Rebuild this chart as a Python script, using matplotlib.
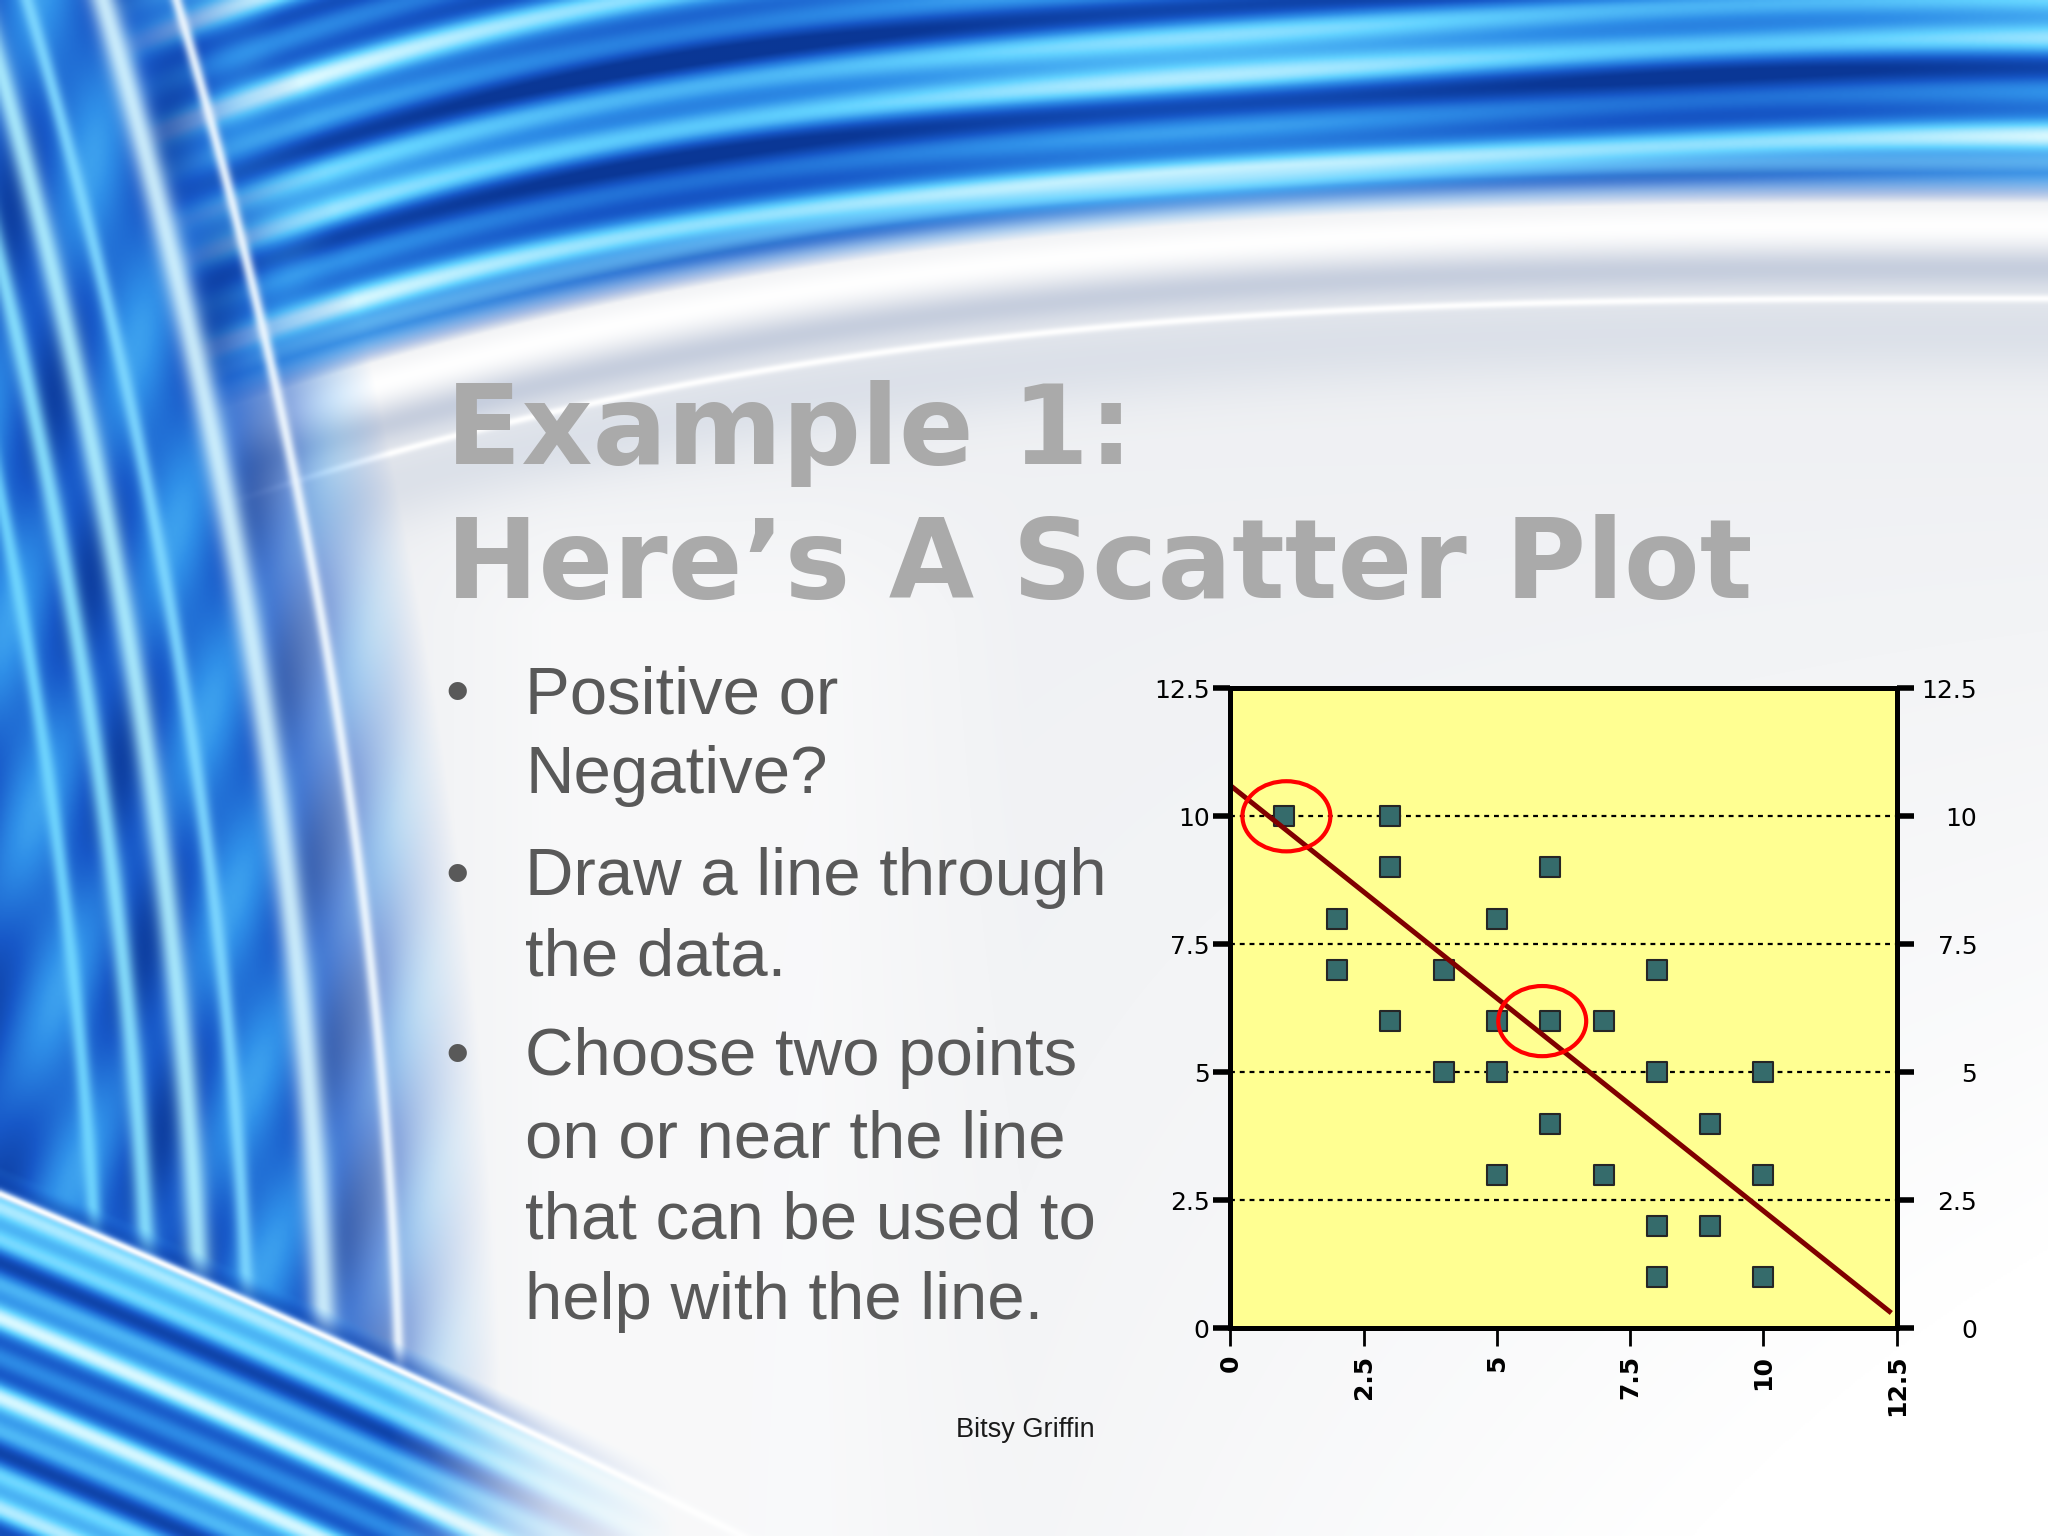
import numpy as np
import matplotlib
matplotlib.use("Agg")
import matplotlib.pyplot as plt
from matplotlib.colors import LinearSegmentedColormap
from matplotlib.patches import Ellipse

# %% Data
point_x = [1, 3, 3, 6, 2, 5, 2, 4, 8, 3, 5, 6, 7, 4, 5, 8, 10, 6, 9, 5, 7, 10, 8, 9, 8, 10]
point_y = [10, 10, 9, 9, 8, 8, 7, 7, 7, 6, 6, 6, 6, 5, 5, 5, 5, 4, 4, 3, 3, 3, 2, 2, 1, 1]
fit_x = [0, 12.4]
fit_y = [10.6, 0.3]
circle_x = [1.05, 5.85]
circle_y = [10.0, 6.0]
ticks = [0, 2.5, 5, 7.5, 10, 12.5]
tick_labels = ["0", "2.5", "5", "7.5", "10", "12.5"]
grid_levels = [2.5, 5, 7.5, 10]

title_lines = ["Example 1:", "Here\u2019s A Scatter Plot"]
bullet_lines = [
    ("\u2022", "Positive or"), ("", "Negative?"),
    ("\u2022", "Draw a line through"), ("", "the data."),
    ("\u2022", "Choose two points"), ("", "on or near the line"),
    ("", "that can be used to"), ("", "help with the line."),
]
bullet_baselines = [546, 607, 685, 747, 823, 886, 948, 1010]  # px in a 1176-high frame
author = "Bitsy Griffin"

# %% Background (decorative slide art)
H, W = 768, 1024
yy, xx = np.mgrid[0:H, 0:W]
u = xx / (W - 1)
v = yy / (H - 1)

def blend(img, color, a):
    a = np.clip(a, 0, 1)[..., None]
    return img * (1 - a) + np.array(color) * a

img = np.ones((H, W, 3)) * np.array([0.94, 0.945, 0.955])
img = blend(img, (1, 1, 1), (u - 0.35) * 1.2 * (v - 0.3) * 2.5)

blues = LinearSegmentedColormap.from_list(
    "b", ["#0a3796", "#1758c8", "#2f8fe8", "#62d2ff", "#d8f8ff", "#ffffff"])

# top streak band
s = v - 0.19 * (1 - u) ** 3
sw = s + 0.006 * np.sin(2 * np.pi * u / 0.8)
st = 0.38 + 0.22 * np.sin(2 * np.pi * sw / 0.075) + 0.16 * np.sin(2 * np.pi * sw / 0.031 + 1.3) \
    + 0.08 * np.sin(2 * np.pi * u / 0.5 + 0.5)
top_col = blues(np.clip(st, 0, 1))[..., :3]
a_top = np.clip((0.132 - s) / 0.02, 0, 1)
img = img * (1 - a_top[..., None]) + top_col * a_top[..., None]
img = blend(img, (0.5, 0.85, 1.0), 0.6 * np.exp(-((s - 0.105) / 0.008) ** 2))
img = blend(img, (1, 1, 1), np.exp(-((s - 0.147) / 0.012) ** 2))
img = blend(img, (0.72, 0.76, 0.84), 0.75 * np.exp(-((s - 0.175) / 0.013) ** 2))
img = blend(img, (0.80, 0.83, 0.88), 0.55 * np.exp(-((s - 0.215) / 0.03) ** 2))
img = blend(img, (1, 1, 1), np.exp(-((s - 0.194) / 0.0025) ** 2))

# left vertical streaks
r = u - 0.11 * (1 - (1 - v) ** 2)
sl = 0.25 + 0.12 * np.sin(2 * np.pi * r / 0.09) + 0.08 * np.sin(2 * np.pi * v / 0.12 + 2 * np.pi * r / 0.06)
left_col = blues(np.clip(sl, 0, 1))[..., :3]
a_left = np.clip((0.135 - r) / 0.09, 0, 1)
img = img * (1 - a_left[..., None]) + left_col * a_left[..., None]
for r0, w0, c0 in [(-0.06, 0.004, (0.45, 0.85, 1)), (-0.035, 0.005, (0.55, 0.9, 1)),
                   (-0.01, 0.006, (0.7, 0.95, 1)), (0.013, 0.004, (0.5, 0.85, 1)),
                   (0.05, 0.007, (0.85, 0.97, 1)), (0.086, 0.003, (0.95, 0.98, 1))]:
    img = blend(img, c0, 0.9 * np.exp(-((r - r0) / w0) ** 2))

# bottom-left streaks
q = v - 0.78 - 0.56 * u - 0.15 * u ** 2
sq = 0.45 + 0.22 * np.sin(2 * np.pi * q / 0.06) + 0.15 * np.sin(2 * np.pi * q / 0.025 + 0.4)
bl_col = blues(np.clip(sq, 0, 1))[..., :3]
a_bl = np.clip(q / 0.02 + 1, 0, 1) * np.clip((0.33 - u) / 0.12, 0, 1)
img = img * (1 - a_bl[..., None]) + bl_col * a_bl[..., None]
img = blend(img, (1, 1, 1), np.exp(-((q + 0.002) / 0.003) ** 2) * np.clip((0.45 - u) / 0.1, 0, 1))

# white haze between art and text
img = blend(img, (1, 1, 1), 0.55 * np.clip((u - 0.19) / 0.08, 0, 1) * np.clip((v - 0.3) / 0.1, 0, 1)
            * np.clip((0.5 - u) / 0.1, 0, 1))

# %% Figure
fig = plt.figure(figsize=(20.48, 15.36), dpi=100)
bg = fig.add_axes([0, 0, 1, 1])
bg.imshow(np.clip(img, 0, 1), extent=[0, 1, 0, 1], aspect="auto", interpolation="bilinear")
bg.set_axis_off()

tick_font = ["Liberation Sans Narrow", "DejaVu Sans"]
ax = fig.add_axes([0.6008, 0.1352, 0.3253, 0.4167])
ax.set_facecolor("#ffff92")
ax.set_xlim(0, 12.5)
ax.set_ylim(0, 12.5)
ax.set_xticks(ticks)
ax.set_xticklabels(tick_labels, rotation=90, fontweight="bold", fontsize=18, family=tick_font)
ax.set_yticks(ticks)
ax.set_yticklabels(tick_labels, fontsize=18, family=tick_font)
ax.tick_params(axis="x", length=13, width=2, pad=6, colors="black")
ax.tick_params(axis="y", length=12, width=4, pad=3)
for sp in ax.spines.values():
    sp.set_linewidth(3.6)
    sp.set_color("black")
for lvl in grid_levels:
    ax.axhline(lvl, color="black", linewidth=1.6, linestyle=(0, (2.2, 2.2)), zorder=1)

ax.scatter(point_x, point_y, marker="s", s=14 ** 2, c="#356b6b",
           edgecolors="#262626", linewidths=1.5, zorder=3)
ax.plot(fit_x, fit_y, color="#800000", linewidth=3.6, zorder=4, solid_capstyle="butt")
for cx, cy in zip(circle_x, circle_y):
    ax.add_patch(Ellipse((cx, cy), 1.65, 1.37, fill=False, edgecolor="#ff0000",
                         linewidth=3, zorder=5))

ax2 = ax.twinx()
ax2.set_ylim(0, 12.5)
ax2.set_yticks(ticks)
ax2.set_yticklabels(tick_labels, fontsize=18, family=tick_font, ha="right")
ax2.tick_params(axis="y", length=12, width=4, pad=46)
for sp in ax2.spines.values():
    sp.set_linewidth(3.6)

# %% Slide text
title_kw = dict(fontsize=79.5, fontweight="bold", color="#aaaaaa", family="DejaVu Sans", va="baseline")
fig.text(0.218, 1 - 355 / 1176, title_lines[0], **title_kw)
fig.text(0.218, 1 - 458 / 1176, title_lines[1], **title_kw)

body_kw = dict(fontsize=48.3, color="#595959", family="Liberation Sans", va="baseline")
for (bul, line), b in zip(bullet_lines, bullet_baselines):
    y = 1 - b / 1176
    if bul:
        fig.text(0.2232, y, bul, ha="center", **body_kw)
    fig.text(0.2564, y, line, ha="left", **body_kw)

fig.text(0.5344, 1 - 1100 / 1176, author, ha="right", va="baseline", fontsize=19.5,
         color="#1a1a1a", family="Liberation Sans")

fig.savefig("out.png", dpi=100)
